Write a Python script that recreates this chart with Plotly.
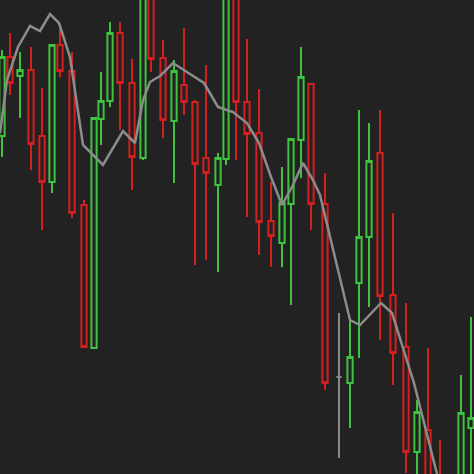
import plotly.graph_objects as go

# Candle sample times (minutes)
t = [2, 10, 20, 31, 42, 52, 60, 72, 84, 94, 101, 110, 120, 132, 143, 151, 163, 174, 184, 195,
     206, 218, 226, 236, 247, 259, 271, 282, 291, 301, 311, 325, 350, 359, 369, 380, 393, 406,
     417, 428, 440, 461, 471]
open_ = [136.4, 144.3, 142.4, 143.0, 136.4, 131.8, 145.5, 142.9, 129.5, 115.2, 138.1, 139.9, 146.7,
         141.7, 134.2, 151.0, 144.2, 137.9, 141.5, 139.8, 134.2, 131.5, 134.1, 151.0, 139.8, 136.7,
         127.9, 125.7, 129.6, 136.0, 141.6, 129.6, 111.7, 121.7, 126.3, 134.7, 120.5, 115.3,
         104.8, 107.0, 102.2, 101.0, 107.2]
high = [145.0, 146.7, 144.8, 145.3, 141.2, 145.6, 147.5, 144.8, 130.0, 138.3, 142.8, 147.8, 147.8,
        144.1, 151.5, 151.5, 146.0, 144.0, 147.2, 140.0, 143.5, 134.7, 151.5, 151.5, 146.1, 141.1,
        131.8, 133.3, 136.2, 145.3, 141.7, 132.7, 118.2, 139.0, 137.7, 139.0, 128.7, 119.7,
        110.0, 115.2, 106.0, 112.5, 118.3]
low = [134.3, 140.5, 138.2, 133.0, 127.0, 130.7, 142.3, 128.2, 115.2, 115.1, 135.5, 139.3, 137.0,
       131.0, 134.0, 142.8, 136.2, 131.7, 138.5, 123.5, 124.0, 122.8, 133.5, 134.0, 128.3, 124.5,
       123.3, 123.3, 119.5, 132.2, 127.0, 111.0, 107.2, 114.2, 119.3, 116.0, 111.5, 102.7,
       101.0, 100.5, 100.0, 100.0, 102.0]
close = [144.3, 141.7, 143.0, 135.6, 131.8, 145.5, 142.9, 128.7, 115.3, 138.2, 139.9, 146.7, 141.7,
         134.3, 151.0, 144.1, 138.0, 142.9, 139.8, 133.6, 132.7, 134.2, 151.0, 139.8, 136.6, 127.8,
         126.4, 129.7, 136.1, 142.3, 129.6, 111.7, 114.3, 126.3, 133.9, 120.4, 114.7, 104.8,
         108.8, 101.0, 100.5, 108.7, 108.2]

# Unchanged (doji) candle
doji_t = [339]
doji_open = [112.3]
doji_high = [118.7]
doji_low = [104.2]
doji_close = [112.3]

# Moving-average line
ma_t = [0, 7, 18, 30, 40, 50, 59, 70, 83, 103, 123, 135, 143, 150, 160, 173, 190, 204, 218, 233,
        247, 259, 271, 282, 293, 303, 313, 320, 350, 360, 381, 392, 414, 437]
ma = [136.7, 142.0, 145.3, 147.4, 146.9, 148.6, 147.7, 144.3, 135.5, 133.5, 136.9, 135.7, 140.0,
      141.8, 142.4, 143.7, 142.6, 141.7, 139.3, 138.8, 137.7, 135.7, 132.3, 129.5, 131.5, 133.7,
      132.0, 130.5, 118.0, 117.5, 119.7, 118.7, 111.7, 102.6]

BG = "#222222"
GREEN = "#3fc23f"
RED = "#d41f1f"

fig = go.Figure()
fig.add_trace(go.Candlestick(
    x=t, open=open_, high=high, low=low, close=close,
    increasing=dict(line=dict(color=GREEN, width=2), fillcolor=BG),
    decreasing=dict(line=dict(color=RED, width=2), fillcolor=BG),
    hoverinfo="skip", showlegend=False,
))
fig.add_trace(go.Candlestick(
    x=doji_t, open=doji_open, high=doji_high, low=doji_low, close=doji_close,
    increasing=dict(line=dict(color="#8a8a8a", width=2), fillcolor=BG),
    decreasing=dict(line=dict(color="#8a8a8a", width=2), fillcolor=BG),
    hoverinfo="skip", showlegend=False,
))
fig.add_trace(go.Scatter(
    x=ma_t, y=ma, mode="lines", line=dict(color="#8c8c8c", width=2.5),
    hoverinfo="skip", showlegend=False,
))
fig.update_layout(
    width=474, height=474,
    margin=dict(l=0, r=0, t=0, b=0),
    paper_bgcolor=BG, plot_bgcolor=BG,
    boxgap=0.25, boxgroupgap=0,
    xaxis=dict(range=[0, 474], visible=False, rangeslider=dict(visible=False), fixedrange=True),
    yaxis=dict(range=[102.6, 150.0], visible=False, fixedrange=True),
)
fig.write_html(
    "out.html",
    config={"displayModeBar": False, "staticPlot": True},
    post_script="document.body.style.margin='0';document.body.style.background='#222222';",
)
